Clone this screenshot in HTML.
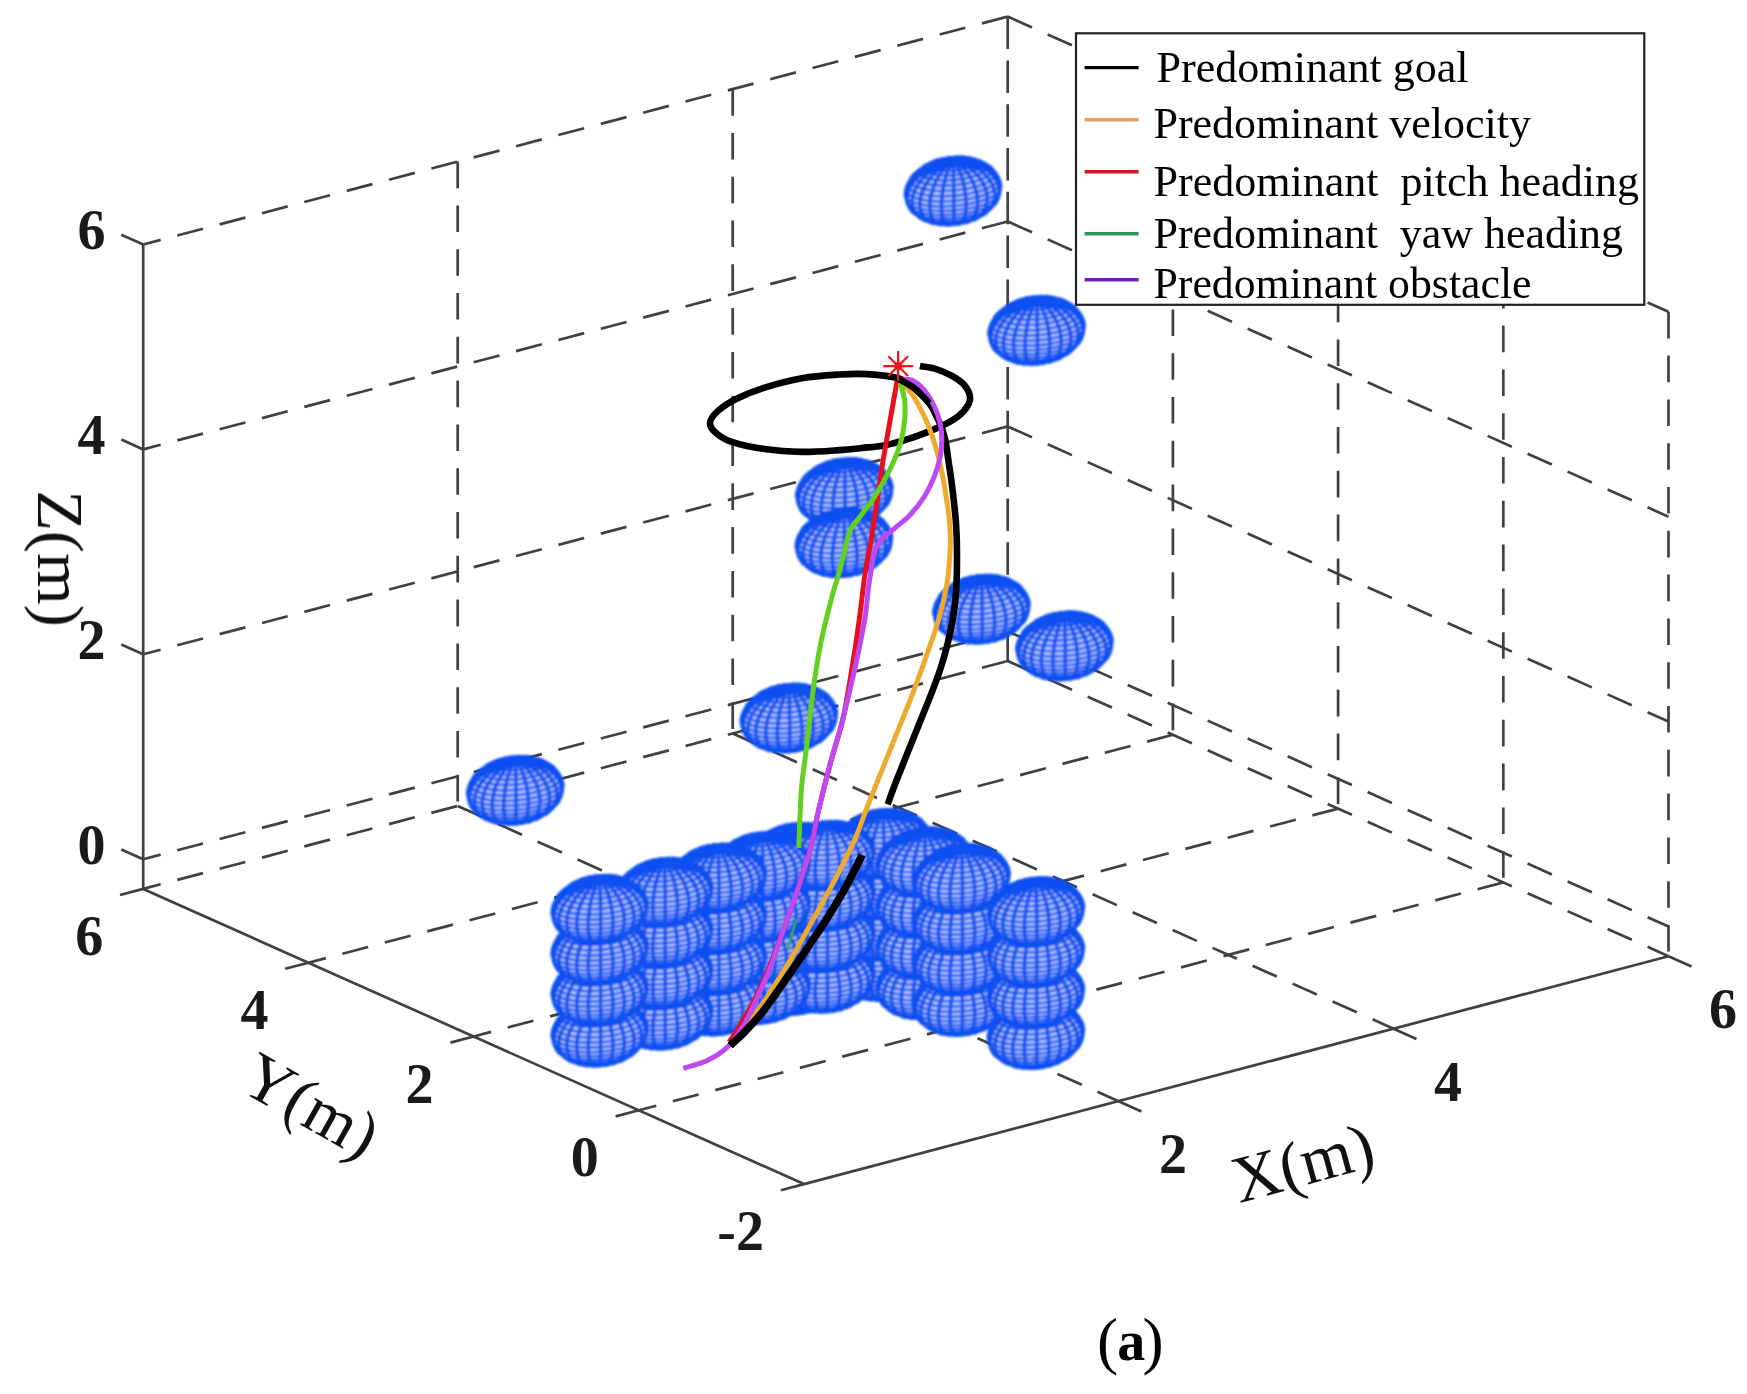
<!DOCTYPE html>
<html lang="en">
<head>
<meta charset="utf-8">
<title>Figure (a)</title>
<style>
html,body{margin:0;padding:0;background:#fff;}
body{width:1747px;height:1394px;overflow:hidden;}
svg{display:block;}
</style>
</head>
<body>
<svg width="1747" height="1394" viewBox="0 0 1747 1394" font-family="'Liberation Serif', serif">
<g fill="none" stroke="#404040" stroke-width="2.7">
<path d="M1007.7 631.3 L143.2 859.2" stroke-dasharray="26.6 17.2"/>
<path d="M1007.7 426.4 L143.2 654.3" stroke-dasharray="26.6 17.2"/>
<path d="M1007.7 221.5 L143.2 449.4" stroke-dasharray="26.6 17.2"/>
<path d="M1007.7 16.6 L143.2 244.5" stroke-dasharray="26.6 17.2"/>
<path d="M457.7 161.6 L457.7 806" stroke-dasharray="26.6 17.2"/>
<path d="M732.7 89.1 L732.7 733.5" stroke-dasharray="26.6 17.2"/>
<path d="M1007.7 16.6 L1007.7 661" stroke-dasharray="32.5 11.3"/>
<path d="M1007.7 631.3 L1668.5 926.5" stroke-dasharray="26.6 17.2"/>
<path d="M1007.7 426.4 L1668.5 721.6" stroke-dasharray="26.6 17.2"/>
<path d="M1007.7 221.5 L1668.5 516.7" stroke-dasharray="26.6 17.2"/>
<path d="M1007.7 16.6 L1668.5 311.8" stroke-dasharray="26.6 17.2"/>
<path d="M1172.9 90.4 L1172.9 734.8" stroke-dasharray="26.6 17.2"/>
<path d="M1338.1 164.2 L1338.1 808.6" stroke-dasharray="26.6 17.2"/>
<path d="M1503.3 238 L1503.3 882.4" stroke-dasharray="26.6 17.2"/>
<path d="M1668.5 311.8 L1668.5 956.2" stroke-dasharray="26.6 17.2"/>
<path d="M1007.7 661 L143.2 888.9" stroke-dasharray="26.6 17.2"/>
<path d="M1007.7 661 L1668.5 956.2" stroke-dasharray="26.6 17.2"/>
<path d="M457.7 806 L1118.5 1101.2" stroke-dasharray="26.6 17.2"/>
<path d="M732.7 733.5 L1393.5 1028.7" stroke-dasharray="26.6 17.2"/>
<path d="M1172.9 734.8 L308.4 962.7" stroke-dasharray="26.6 17.2"/>
<path d="M1338.1 808.6 L473.6 1036.5" stroke-dasharray="26.6 17.2"/>
<path d="M1503.3 882.4 L638.8 1110.3" stroke-dasharray="26.6 17.2"/>
</g>
<g fill="none" stroke="#404040" stroke-width="2.7" stroke-linecap="butt">
<path d="M143.2 244.5 L143.2 888.9"/>
<path d="M143.2 888.9 L804 1184.1"/>
<path d="M804 1184.1 L1668.5 956.2"/>
<path d="M143.2 859.2 L121.3 849.4"/>
<path d="M143.2 654.3 L121.3 644.5"/>
<path d="M143.2 449.4 L121.3 439.6"/>
<path d="M143.2 244.5 L121.3 234.7"/>
<path d="M143.2 888.9 L120 895"/>
<path d="M308.4 962.7 L285.2 968.8"/>
<path d="M473.6 1036.5 L450.4 1042.6"/>
<path d="M638.8 1110.3 L615.6 1116.4"/>
<path d="M804 1184.1 L780.8 1190.2"/>
<path d="M1118.5 1101.2 L1141.5 1111.5"/>
<path d="M1393.5 1028.7 L1416.5 1039"/>
<path d="M1668.5 956.2 L1691.5 966.5"/>
</g>
<defs><filter id="bl" x="-5%" y="-5%" width="110%" height="110%"><feGaussianBlur stdDeviation="0.8"/></filter><g id="s"><ellipse rx="47.91" ry="33.71" transform="rotate(171.43)" fill="#aec4ff" stroke="#0b50f0" stroke-width="2.5"/><path d="M28.9 -29.1 L27.3 -29.8 L25.7 -30.4 L24 -30.9 L22.2 -31.4 L20.4 -31.7 L18.5 -32 L16.6 -32.2 L14.6 -32.3 L12.6 -32.3 L10.6 -32.2 L8.5 -32 L6.4 -31.7 L4.3 -31.4 L2.1 -30.9 L0 -30.4 M18 -32.7 L16.5 -33 L15 -33.1 L13.5 -33.2 L11.9 -33.1 L10.2 -33 L8.6 -32.8 L6.9 -32.5 L5.2 -32.1 L3.5 -31.6 L1.7 -31.1 L0 -30.4 M11.6 -33.8 L10.5 -33.8 L9.4 -33.8 L8.3 -33.7 L7.1 -33.5 L6 -33.2 L4.8 -32.8 L3.6 -32.4 L2.4 -31.8 L1.2 -31.2 L0 -30.4 M5.2 -34.1 L4.7 -34 L4.1 -33.9 L3.6 -33.7 L3 -33.4 L2.4 -33 L1.8 -32.5 L1.2 -31.9 L0.6 -31.2 L0 -30.4 M-0.4 -33.9 L-0.3 -33.8 L-0.3 -33.7 L-0.3 -33.5 L-0.2 -33.2 L-0.2 -32.9 L-0.1 -32.4 L-0.1 -31.8 L-0 -31.2 L-0 -30.4 M-6 -33.2 L-5.3 -33.2 L-4.7 -33.2 L-4.1 -33.1 L-3.4 -32.9 L-2.7 -32.5 L-2.1 -32.1 L-1.4 -31.7 L-0.7 -31.1 L-0 -30.4 M-12.3 -31.8 L-11.1 -32.1 L-10 -32.3 L-8.8 -32.3 L-7.6 -32.3 L-6.3 -32.2 L-5.1 -32 L-3.8 -31.8 L-2.6 -31.4 L-1.3 -31 L-0 -30.4 M-20.1 -29.2 L-18.7 -29.8 L-17.1 -30.3 L-15.6 -30.7 L-13.9 -31 L-12.3 -31.2 L-10.6 -31.3 L-8.9 -31.4 L-7.1 -31.4 L-5.4 -31.3 L-3.6 -31.1 L-1.8 -30.8 L-0 -30.4 M-29.5 -24.4 L-27.9 -25.4 L-26.2 -26.2 L-24.5 -27 L-22.7 -27.8 L-20.8 -28.4 L-18.9 -29 L-16.9 -29.5 L-14.9 -29.9 L-12.9 -30.2 L-10.8 -30.5 L-8.7 -30.6 L-6.5 -30.7 L-4.4 -30.7 L-2.2 -30.6 L-0 -30.4 M-42.2 -12.5 L-41.2 -13.9 L-40 -15.3 L-38.8 -16.7 L-37.4 -18 L-35.9 -19.3 L-34.4 -20.5 L-32.7 -21.6 L-30.9 -22.7 L-29.1 -23.7 L-27.2 -24.7 L-25.2 -25.6 L-23.1 -26.4 L-21 -27.2 L-18.8 -27.9 L-16.6 -28.5 L-14.3 -29 L-12 -29.4 L-9.6 -29.8 L-7.2 -30.1 L-4.8 -30.3 L-2.4 -30.4 L-0 -30.4 M-47.6 5.4 L-47.6 3.8 L-47.6 2.2 L-47.4 0.6 L-47 -1 L-46.6 -2.6 L-46 -4.2 L-45.3 -5.7 L-44.5 -7.3 L-43.5 -8.9 L-42.4 -10.4 L-41.3 -11.9 L-39.9 -13.3 L-38.5 -14.8 L-37 -16.2 L-35.4 -17.5 L-33.7 -18.8 L-31.9 -20 L-30 -21.2 L-28 -22.4 L-25.9 -23.4 L-23.8 -24.4 L-21.6 -25.4 L-19.4 -26.2 L-17.1 -27 L-14.7 -27.8 L-12.3 -28.4 L-9.9 -29 L-7.5 -29.5 L-5 -29.9 L-2.5 -30.2 L-0 -30.4 M-39.7 21.8 L-40.8 20.6 L-41.8 19.3 L-42.8 18 L-43.6 16.6 L-44.2 15.2 L-44.8 13.7 L-45.2 12.2 L-45.5 10.7 L-45.7 9.1 L-45.8 7.6 L-45.7 6 L-45.5 4.3 L-45.2 2.7 L-44.8 1.1 L-44.2 -0.6 L-43.6 -2.2 L-42.8 -3.8 L-41.8 -5.5 L-40.8 -7.1 L-39.7 -8.7 L-38.4 -10.2 L-37 -11.8 L-35.6 -13.3 L-34 -14.7 L-32.4 -16.2 L-30.6 -17.6 L-28.8 -18.9 L-26.9 -20.2 L-24.9 -21.4 L-22.9 -22.6 L-20.8 -23.7 L-18.6 -24.7 L-16.4 -25.7 L-14.2 -26.6 L-11.9 -27.4 L-9.5 -28.2 L-7.2 -28.9 L-4.8 -29.5 L-2.4 -30 L-0 -30.4 M-27.3 29.8 L-28.9 29.1 L-30.3 28.4 L-31.7 27.5 L-33 26.6 L-34.2 25.6 L-35.4 24.5 L-36.4 23.4 L-37.3 22.2 L-38.1 21 L-38.8 19.6 L-39.4 18.3 L-39.9 16.9 L-40.3 15.4 L-40.6 13.9 L-40.8 12.3 L-40.8 10.8 L-40.8 9.2 L-40.6 7.5 L-40.3 5.9 L-39.9 4.2 L-39.4 2.5 L-38.8 0.8 L-38.1 -0.9 L-37.3 -2.5 L-36.4 -4.2 L-35.4 -5.9 L-34.2 -7.5 L-33 -9.2 L-31.7 -10.8 L-30.3 -12.4 L-28.9 -13.9 L-27.3 -15.4 L-25.7 -16.9 L-24 -18.3 L-22.2 -19.7 L-20.4 -21 L-18.5 -22.2 L-16.6 -23.4 L-14.6 -24.5 L-12.6 -25.6 L-10.6 -26.6 L-8.5 -27.5 L-6.4 -28.4 L-4.3 -29.1 L-2.1 -29.8 L-0 -30.4 M-18 32.7 L-19.5 32.4 L-20.8 32 L-22.1 31.5 L-23.4 30.9 L-24.6 30.2 L-25.7 29.4 L-26.8 28.6 L-27.8 27.7 L-28.7 26.7 L-29.5 25.6 L-30.2 24.5 L-30.9 23.3 L-31.5 22 L-32 20.7 L-32.4 19.3 L-32.7 17.8 L-32.9 16.3 L-33.1 14.8 L-33.1 13.2 L-33.1 11.6 L-32.9 10 L-32.7 8.3 L-32.4 6.6 L-32 4.9 L-31.5 3.2 L-30.9 1.5 L-30.2 -0.3 L-29.5 -2 L-28.7 -3.8 L-27.8 -5.5 L-26.8 -7.2 L-25.7 -8.9 L-24.6 -10.5 L-23.4 -12.2 L-22.1 -13.8 L-20.8 -15.3 L-19.5 -16.8 L-18 -18.3 L-16.5 -19.7 L-15 -21.1 L-13.5 -22.4 L-11.9 -23.7 L-10.2 -24.8 L-8.6 -26 L-6.9 -27 L-5.2 -28 L-3.5 -28.9 L-1.7 -29.7 L-0 -30.4 M-11.6 33.8 L-12.6 33.6 L-13.6 33.3 L-14.5 33 L-15.5 32.5 L-16.3 32 L-17.2 31.4 L-18 30.7 L-18.7 29.9 L-19.4 29 L-20 28 L-20.6 27 L-21.1 25.9 L-21.6 24.7 L-22 23.5 L-22.3 22.2 L-22.6 20.8 L-22.8 19.4 L-23 17.9 L-23.1 16.4 L-23.1 14.8 L-23.1 13.2 L-23 11.5 L-22.8 9.9 L-22.6 8.2 L-22.3 6.4 L-22 4.7 L-21.6 2.9 L-21.1 1.1 L-20.6 -0.6 L-20 -2.4 L-19.4 -4.2 L-18.7 -5.9 L-18 -7.6 L-17.2 -9.4 L-16.3 -11 L-15.5 -12.7 L-14.5 -14.3 L-13.6 -15.9 L-12.6 -17.5 L-11.6 -18.9 L-10.5 -20.4 L-9.4 -21.8 L-8.3 -23.1 L-7.1 -24.4 L-6 -25.6 L-4.8 -26.7 L-3.6 -27.7 L-2.4 -28.7 L-1.2 -29.6 L-0 -30.4 M-5.2 34.1 L-5.8 34 L-6.3 33.9 L-6.8 33.6 L-7.3 33.3 L-7.7 32.9 L-8.2 32.4 L-8.6 31.8 L-9 31.1 L-9.3 30.3 L-9.7 29.5 L-10 28.5 L-10.3 27.5 L-10.5 26.4 L-10.8 25.2 L-11 24 L-11.1 22.7 L-11.3 21.4 L-11.4 19.9 L-11.5 18.5 L-11.5 16.9 L-11.5 15.4 L-11.5 13.7 L-11.5 12.1 L-11.4 10.4 L-11.3 8.7 L-11.1 7 L-11 5.2 L-10.8 3.4 L-10.5 1.7 L-10.3 -0.1 L-10 -1.9 L-9.7 -3.7 L-9.3 -5.5 L-9 -7.2 L-8.6 -8.9 L-8.2 -10.7 L-7.7 -12.3 L-7.3 -14 L-6.8 -15.6 L-6.3 -17.2 L-5.8 -18.7 L-5.2 -20.1 L-4.7 -21.5 L-4.1 -22.9 L-3.6 -24.2 L-3 -25.4 L-2.4 -26.6 L-1.8 -27.6 L-1.2 -28.7 L-0.6 -29.6 L-0 -30.4 M0.4 33.9 L0.4 33.8 L0.5 33.6 L0.5 33.4 L0.5 33 L0.6 32.6 L0.6 32 L0.6 31.4 L0.6 30.7 L0.7 29.9 L0.7 29 L0.7 28.1 L0.7 27.1 L0.8 26 L0.8 24.8 L0.8 23.5 L0.8 22.2 L0.8 20.9 L0.8 19.5 L0.8 18 L0.8 16.4 L0.8 14.9 L0.8 13.3 L0.8 11.6 L0.8 9.9 L0.8 8.2 L0.8 6.5 L0.8 4.7 L0.8 3 L0.8 1.2 L0.7 -0.6 L0.7 -2.3 L0.7 -4.1 L0.7 -5.9 L0.6 -7.6 L0.6 -9.3 L0.6 -11 L0.6 -12.7 L0.5 -14.3 L0.5 -15.9 L0.5 -17.4 L0.4 -18.9 L0.4 -20.4 L0.3 -21.7 L0.3 -23.1 L0.3 -24.3 L0.2 -25.5 L0.2 -26.7 L0.1 -27.7 L0.1 -28.7 L0 -29.6 L0 -30.4 M6 33.2 L6.6 33 L7.1 32.8 L7.7 32.5 L8.3 32.1 L8.8 31.6 L9.3 31 L9.8 30.3 L10.2 29.5 L10.6 28.7 L11 27.8 L11.4 26.8 L11.7 25.7 L12 24.6 L12.3 23.4 L12.5 22.1 L12.7 20.8 L12.8 19.4 L13 18 L13.1 16.5 L13.1 14.9 L13.1 13.4 L13.1 11.8 L13.1 10.1 L13 8.4 L12.8 6.8 L12.7 5 L12.5 3.3 L12.3 1.6 L12 -0.2 L11.7 -1.9 L11.4 -3.6 L11 -5.4 L10.6 -7.1 L10.2 -8.8 L9.8 -10.4 L9.3 -12.1 L8.8 -13.7 L8.3 -15.2 L7.7 -16.8 L7.1 -18.2 L6.6 -19.7 L6 -21 L5.3 -22.4 L4.7 -23.6 L4.1 -24.8 L3.4 -25.9 L2.7 -27 L2.1 -28 L1.4 -28.9 L0.7 -29.7 L0 -30.4 M12.3 31.8 L13.4 31.5 L14.4 31.1 L15.4 30.5 L16.4 29.9 L17.3 29.3 L18.2 28.5 L19.1 27.7 L19.8 26.8 L20.6 25.8 L21.2 24.7 L21.9 23.6 L22.4 22.4 L22.9 21.1 L23.3 19.8 L23.7 18.5 L24 17 L24.2 15.6 L24.4 14.1 L24.5 12.5 L24.5 11 L24.5 9.4 L24.4 7.7 L24.2 6.1 L24 4.4 L23.7 2.7 L23.3 1 L22.9 -0.7 L22.4 -2.4 L21.9 -4 L21.2 -5.7 L20.6 -7.4 L19.8 -9 L19.1 -10.6 L18.2 -12.2 L17.3 -13.8 L16.4 -15.3 L15.4 -16.7 L14.4 -18.2 L13.4 -19.5 L12.3 -20.9 L11.1 -22.1 L10 -23.3 L8.8 -24.5 L7.6 -25.6 L6.3 -26.6 L5.1 -27.5 L3.8 -28.3 L2.6 -29.1 L1.3 -29.8 L0 -30.4 M20.1 29.2 L21.6 28.6 L22.9 27.8 L24.2 27 L25.5 26.2 L26.6 25.2 L27.7 24.2 L28.7 23.1 L29.7 22 L30.5 20.8 L31.3 19.5 L32 18.2 L32.6 16.8 L33.1 15.4 L33.5 14 L33.8 12.5 L34.1 10.9 L34.2 9.4 L34.3 7.8 L34.2 6.2 L34.1 4.6 L33.8 2.9 L33.5 1.3 L33.1 -0.3 L32.6 -2 L32 -3.6 L31.3 -5.3 L30.5 -6.9 L29.7 -8.5 L28.7 -10 L27.7 -11.6 L26.6 -13.1 L25.5 -14.6 L24.2 -16 L22.9 -17.4 L21.6 -18.7 L20.1 -20 L18.7 -21.3 L17.1 -22.5 L15.6 -23.6 L13.9 -24.6 L12.3 -25.6 L10.6 -26.5 L8.9 -27.4 L7.1 -28.1 L5.4 -28.8 L3.6 -29.4 L1.8 -30 L0 -30.4 M29.5 24.4 L31 23.4 L32.4 22.3 L33.7 21.2 L34.9 20 L36.1 18.8 L37.1 17.5 L38.1 16.1 L38.9 14.7 L39.6 13.3 L40.2 11.8 L40.8 10.3 L41.2 8.8 L41.4 7.3 L41.6 5.7 L41.7 4.1 L41.6 2.5 L41.4 0.9 L41.2 -0.7 L40.8 -2.3 L40.2 -3.9 L39.6 -5.5 L38.9 -7.1 L38.1 -8.6 L37.1 -10.2 L36.1 -11.7 L34.9 -13.1 L33.7 -14.6 L32.4 -16 L31 -17.3 L29.5 -18.6 L27.9 -19.9 L26.2 -21.1 L24.5 -22.2 L22.7 -23.3 L20.8 -24.3 L18.9 -25.2 L16.9 -26.1 L14.9 -26.9 L12.9 -27.7 L10.8 -28.3 L8.7 -28.9 L6.5 -29.4 L4.4 -29.8 L2.2 -30.2 L0 -30.4 M41.2 13.9 L42.2 12.5 L43.2 11 L44 9.5 L44.6 8 L45.2 6.5 L45.7 4.9 L46 3.3 L46.2 1.7 L46.2 0.1 L46.2 -1.5 L46 -3 L45.7 -4.6 L45.2 -6.2 L44.6 -7.7 L44 -9.3 L43.2 -10.8 L42.2 -12.3 L41.2 -13.7 L40 -15.1 L38.8 -16.5 L37.4 -17.8 L35.9 -19 L34.4 -20.3 L32.7 -21.4 L30.9 -22.5 L29.1 -23.6 L27.2 -24.5 L25.2 -25.4 L23.1 -26.3 L21 -27 L18.8 -27.7 L16.6 -28.4 L14.3 -28.9 L12 -29.4 L9.6 -29.7 L7.2 -30 L4.8 -30.2 L2.4 -30.4 L0 -30.4 M47.6 -3.8 L47.6 -5.4 L47.4 -7 L47 -8.6 L46.6 -10.1 L46 -11.6 L45.3 -13.1 L44.5 -14.5 L43.5 -15.9 L42.4 -17.2 L41.3 -18.5 L39.9 -19.8 L38.5 -21 L37 -22.1 L35.4 -23.2 L33.7 -24.2 L31.9 -25.2 L30 -26.1 L28 -26.9 L25.9 -27.6 L23.8 -28.3 L21.6 -28.9 L19.4 -29.4 L17.1 -29.8 L14.7 -30.1 L12.3 -30.4 L9.9 -30.6 L7.5 -30.7 L5 -30.7 L2.5 -30.6 L0 -30.4 M39.7 -21.8 L38.4 -22.9 L37 -24 L35.6 -25 L34 -26 L32.4 -26.9 L30.6 -27.7 L28.8 -28.4 L26.9 -29.1 L24.9 -29.6 L22.9 -30.1 L20.8 -30.5 L18.6 -30.9 L16.4 -31.1 L14.2 -31.3 L11.9 -31.3 L9.5 -31.3 L7.2 -31.2 L4.8 -31.1 L2.4 -30.8 L0 -30.4" fill="none" stroke="#0b50f0" stroke-width="3.5" stroke-linejoin="round"/><path d="M-7.4 34 L-5.6 34.1 L-3.8 34.1 L-1.9 34 L-0 33.9 L1.9 33.7 L3.8 33.5 L5.6 33.2 L7.4 32.9 M-21.5 31.9 L-19.8 32.3 L-18 32.7 L-16.1 33 L-14 33.3 L-11.8 33.5 L-9.6 33.6 L-7.2 33.6 L-4.9 33.6 L-2.4 33.5 L-0 33.4 L2.4 33.2 L4.9 32.9 L7.2 32.6 L9.6 32.1 L11.8 31.7 L14 31.2 L16.1 30.6 L18 30 L19.8 29.3 L21.5 28.6 M-29.2 29 L-27.6 29.7 L-25.8 30.2 L-23.8 30.8 L-21.7 31.2 L-19.3 31.6 L-16.8 31.9 L-14.2 32.2 L-11.5 32.3 L-8.7 32.4 L-5.8 32.4 L-2.9 32.3 L0 32.1 L2.9 31.8 L5.8 31.5 L8.7 31.1 L11.5 30.6 L14.2 30 L16.8 29.4 L19.3 28.7 L21.7 28 L23.8 27.2 L25.8 26.4 L27.6 25.5 L29.2 24.6 M-36.2 24.7 L-34.9 25.6 L-33.4 26.4 L-31.6 27.2 L-29.5 27.9 L-27.3 28.5 L-24.8 29 L-22.1 29.4 L-19.3 29.8 L-16.3 30.1 L-13.2 30.2 L-10 30.3 L-6.7 30.3 L-3.4 30.2 L0 30 L3.4 29.7 L6.7 29.3 L10 28.8 L13.2 28.2 L16.3 27.6 L19.3 26.9 L22.1 26.1 L24.8 25.3 L27.3 24.4 L29.5 23.4 L31.6 22.4 L33.4 21.4 L34.9 20.4 L36.2 19.3 M-41 20.3 L-39.9 21.4 L-38.5 22.3 L-36.8 23.2 L-34.8 24.1 L-32.5 24.8 L-30 25.5 L-27.3 26.1 L-24.3 26.5 L-21.2 26.9 L-17.9 27.2 L-14.5 27.4 L-11 27.5 L-7.4 27.5 L-3.7 27.4 L-0 27.1 L3.7 26.8 L7.4 26.4 L11 25.8 L14.5 25.2 L17.9 24.5 L21.2 23.7 L24.3 22.9 L27.3 22 L30 21 L32.5 19.9 L34.8 18.8 L36.8 17.7 L38.5 16.5 L39.9 15.4 L41 14.2 M-44.6 15.2 L-43.8 16.4 L-42.6 17.5 L-41.1 18.5 L-39.2 19.5 L-37.1 20.3 L-34.7 21.1 L-32 21.9 L-29.1 22.5 L-26 23 L-22.7 23.4 L-19.1 23.7 L-15.5 23.9 L-11.7 24 L-7.9 24 L-3.9 23.9 L0 23.6 L3.9 23.3 L7.9 22.8 L11.7 22.2 L15.5 21.6 L19.1 20.8 L22.7 20 L26 19.1 L29.1 18.1 L32 17 L34.7 15.9 L37.1 14.8 L39.2 13.6 L41.1 12.3 L42.6 11.1 L43.8 9.8 L44.6 8.5 M-46.9 9.6 L-46.3 10.8 L-45.4 12 L-44.2 13.1 L-42.6 14.2 L-40.7 15.2 L-38.5 16.1 L-36 17 L-33.3 17.7 L-30.2 18.3 L-27 18.9 L-23.5 19.3 L-19.9 19.6 L-16.1 19.8 L-12.2 19.9 L-8.2 19.9 L-4.1 19.8 L0 19.5 L4.1 19.1 L8.2 18.7 L12.2 18.1 L16.1 17.4 L19.9 16.6 L23.5 15.8 L27 14.8 L30.2 13.8 L33.3 12.7 L36 11.5 L38.5 10.3 L40.7 9.1 L42.6 7.8 L44.2 6.5 L45.4 5.2 L46.3 3.8 L46.9 2.5 M-47.6 3.6 L-47.5 4.9 L-46.9 6.1 L-46 7.3 L-44.8 8.5 L-43.2 9.6 L-41.3 10.6 L-39 11.5 L-36.5 12.3 L-33.7 13.1 L-30.6 13.7 L-27.3 14.3 L-23.8 14.7 L-20.1 15.1 L-16.3 15.3 L-12.3 15.4 L-8.3 15.3 L-4.2 15.2 L-0 14.9 L4.2 14.6 L8.3 14.1 L12.3 13.5 L16.3 12.8 L20.1 12 L23.8 11.1 L27.3 10.2 L30.6 9.1 L33.7 8 L36.5 6.9 L39 5.6 L41.3 4.4 L43.2 3.1 L44.8 1.7 L46 0.4 L46.9 -0.9 L47.5 -2.3 L47.6 -3.6 M-46.9 -2.5 L-47.1 -1.2 L-46.9 0.1 L-46.3 1.3 L-45.4 2.5 L-44.2 3.6 L-42.6 4.7 L-40.7 5.7 L-38.5 6.6 L-36 7.4 L-33.3 8.2 L-30.2 8.8 L-27 9.4 L-23.5 9.8 L-19.9 10.1 L-16.1 10.3 L-12.2 10.4 L-8.2 10.4 L-4.1 10.2 L0 10 L4.1 9.6 L8.2 9.2 L12.2 8.6 L16.1 7.9 L19.9 7.1 L23.5 6.2 L27 5.3 L30.2 4.3 L33.3 3.2 L36 2 L38.5 0.8 L40.7 -0.4 L42.6 -1.7 L44.2 -3 L45.4 -4.4 L46.3 -5.7 L46.9 -7 L47.1 -8.3 L46.9 -9.6 M-44.6 -8.5 L-45.1 -7.2 L-45.3 -6 L-45.1 -4.8 L-44.6 -3.6 L-43.8 -2.4 L-42.6 -1.3 L-41.1 -0.3 L-39.2 0.7 L-37.1 1.5 L-34.7 2.3 L-32 3.1 L-29.1 3.7 L-26 4.2 L-22.7 4.6 L-19.1 4.9 L-15.5 5.1 L-11.7 5.2 L-7.9 5.2 L-3.9 5 L0 4.8 L3.9 4.5 L7.9 4 L11.7 3.4 L15.5 2.8 L19.1 2 L22.7 1.2 L26 0.3 L29.1 -0.7 L32 -1.8 L34.7 -2.9 L37.1 -4 L39.2 -5.3 L41.1 -6.5 L42.6 -7.7 L43.8 -9 L44.6 -10.3 L45.1 -11.6 L45.3 -12.8 L45.1 -14 L44.6 -15.2 M-41 -14.2 L-41.8 -13 L-42.3 -11.8 L-42.4 -10.6 L-42.3 -9.5 L-41.8 -8.4 L-41 -7.3 L-39.9 -6.3 L-38.5 -5.3 L-36.8 -4.4 L-34.8 -3.6 L-32.5 -2.8 L-30 -2.1 L-27.3 -1.6 L-24.3 -1.1 L-21.2 -0.7 L-17.9 -0.4 L-14.5 -0.2 L-11 -0.1 L-7.4 -0.2 L-3.7 -0.3 L-0 -0.5 L3.7 -0.8 L7.4 -1.3 L11 -1.8 L14.5 -2.4 L17.9 -3.1 L21.2 -3.9 L24.3 -4.7 L27.3 -5.7 L30 -6.7 L32.5 -7.7 L34.8 -8.8 L36.8 -9.9 L38.5 -11.1 L39.9 -12.3 L41 -13.5 L41.8 -14.6 L42.3 -15.8 L42.4 -17 L42.3 -18.2 L41.8 -19.3 L41 -20.3 M-36.2 -19.3 L-37.2 -18.2 L-38 -17.1 L-38.4 -16 L-38.5 -15 L-38.4 -13.9 L-38 -12.9 L-37.2 -12 L-36.2 -11 L-34.9 -10.1 L-33.4 -9.3 L-31.6 -8.6 L-29.5 -7.9 L-27.3 -7.3 L-24.8 -6.8 L-22.1 -6.3 L-19.3 -6 L-16.3 -5.7 L-13.2 -5.5 L-10 -5.5 L-6.7 -5.5 L-3.4 -5.6 L0 -5.8 L3.4 -6.1 L6.7 -6.5 L10 -7 L13.2 -7.5 L16.3 -8.2 L19.3 -8.9 L22.1 -9.6 L24.8 -10.5 L27.3 -11.4 L29.5 -12.3 L31.6 -13.3 L33.4 -14.4 L34.9 -15.4 L36.2 -16.5 L37.2 -17.6 L38 -18.6 L38.4 -19.7 L38.5 -20.8 L38.4 -21.8 L38 -22.8 L37.2 -23.8 L36.2 -24.7 M-29.2 -24.6 L-30.5 -23.7 L-31.7 -22.7 L-32.5 -21.8 L-33.2 -20.9 L-33.6 -19.9 L-33.7 -19 L-33.6 -18.1 L-33.2 -17.2 L-32.5 -16.3 L-31.7 -15.5 L-30.5 -14.8 L-29.2 -14 L-27.6 -13.4 L-25.8 -12.8 L-23.8 -12.3 L-21.7 -11.8 L-19.3 -11.4 L-16.8 -11.1 L-14.2 -10.9 L-11.5 -10.7 L-8.7 -10.7 L-5.8 -10.7 L-2.9 -10.8 L0 -11 L2.9 -11.2 L5.8 -11.6 L8.7 -12 L11.5 -12.5 L14.2 -13 L16.8 -13.6 L19.3 -14.3 L21.7 -15.1 L23.8 -15.8 L25.8 -16.7 L27.6 -17.5 L29.2 -18.4 L30.5 -19.3 L31.7 -20.3 L32.5 -21.2 L33.2 -22.2 L33.6 -23.1 L33.7 -24.1 L33.6 -25 L33.2 -25.8 L32.5 -26.7 L31.7 -27.5 L30.5 -28.3 L29.2 -29 M-19.8 -29.3 L-21.5 -28.6 L-22.9 -27.9 L-24.3 -27.2 L-25.4 -26.4 L-26.3 -25.6 L-27 -24.9 L-27.6 -24.1 L-27.9 -23.3 L-28 -22.5 L-27.9 -21.8 L-27.6 -21 L-27 -20.3 L-26.3 -19.6 L-25.4 -19 L-24.3 -18.4 L-22.9 -17.9 L-21.5 -17.4 L-19.8 -16.9 L-18 -16.5 L-16.1 -16.2 L-14 -16 L-11.8 -15.8 L-9.6 -15.6 L-7.2 -15.6 L-4.9 -15.6 L-2.4 -15.7 L-0 -15.8 L2.4 -16.1 L4.9 -16.3 L7.2 -16.7 L9.6 -17.1 L11.8 -17.5 L14 -18.1 L16.1 -18.6 L18 -19.2 L19.8 -19.9 L21.5 -20.6 L22.9 -21.3 L24.3 -22.1 L25.4 -22.8 L26.3 -23.6 L27 -24.4 L27.6 -25.2 L27.9 -26 L28 -26.7 L27.9 -27.5 L27.6 -28.2 L27 -28.9 L26.3 -29.6 L25.4 -30.2 L24.3 -30.8 L22.9 -31.4 L21.5 -31.9 L19.8 -32.3 M-0 -33.9 L-1.9 -33.7 L-3.8 -33.5 L-5.6 -33.2 L-7.4 -32.9 L-9.1 -32.6 L-10.8 -32.2 L-12.4 -31.7 L-13.9 -31.3 L-15.3 -30.8 L-16.6 -30.2 L-17.7 -29.7 L-18.7 -29.1 L-19.6 -28.5 L-20.3 -27.9 L-20.9 -27.3 L-21.3 -26.7 L-21.5 -26.1 L-21.6 -25.5 L-21.5 -24.9 L-21.3 -24.3 L-20.9 -23.8 L-20.3 -23.3 L-19.6 -22.8 L-18.7 -22.3 L-17.7 -21.9 L-16.6 -21.5 L-15.3 -21.2 L-13.9 -20.9 L-12.4 -20.6 L-10.8 -20.4 L-9.1 -20.3 L-7.4 -20.2 L-5.6 -20.1 L-3.8 -20.1 L-1.9 -20.2 L-0 -20.3 L1.9 -20.5 L3.8 -20.7 L5.6 -21 L7.4 -21.3 L9.1 -21.7 L10.8 -22.1 L12.4 -22.5 L13.9 -23 L15.3 -23.5 L16.6 -24 L17.7 -24.6 L18.7 -25.1 L19.6 -25.7 L20.3 -26.3 L20.9 -26.9 L21.3 -27.5 L21.5 -28.1 L21.6 -28.7 L21.5 -29.3 L21.3 -29.9 L20.9 -30.4 L20.3 -31 L19.6 -31.5 L18.7 -31.9 L17.7 -32.3 L16.6 -32.7 L15.3 -33.1 L13.9 -33.4 L12.4 -33.6 L10.8 -33.8 L9.1 -33.9 L7.4 -34 L5.6 -34.1 L3.8 -34.1 L1.9 -34 L0 -33.9 M-0 -33.6 L-1.3 -33.4 L-2.6 -33.3 L-3.8 -33.1 L-5 -32.9 L-6.2 -32.7 L-7.4 -32.4 L-8.4 -32.1 L-9.5 -31.8 L-10.4 -31.4 L-11.3 -31.1 L-12.1 -30.7 L-12.7 -30.3 L-13.3 -29.9 L-13.8 -29.5 L-14.2 -29.1 L-14.5 -28.6 L-14.7 -28.2 L-14.7 -27.8 L-14.7 -27.4 L-14.5 -27 L-14.2 -26.7 L-13.8 -26.3 L-13.3 -26 L-12.7 -25.7 L-12.1 -25.4 L-11.3 -25.1 L-10.4 -24.9 L-9.5 -24.7 L-8.4 -24.5 L-7.4 -24.4 L-6.2 -24.3 L-5 -24.2 L-3.8 -24.2 L-2.6 -24.2 L-1.3 -24.2 L-0 -24.3 L1.3 -24.4 L2.6 -24.6 L3.8 -24.8 L5 -25 L6.2 -25.2 L7.4 -25.5 L8.4 -25.8 L9.5 -26.1 L10.4 -26.5 L11.3 -26.8 L12.1 -27.2 L12.7 -27.6 L13.3 -28 L13.8 -28.4 L14.2 -28.8 L14.5 -29.2 L14.7 -29.6 L14.7 -30 L14.7 -30.4 L14.5 -30.8 L14.2 -31.2 L13.8 -31.6 L13.3 -31.9 L12.7 -32.2 L12.1 -32.5 L11.3 -32.8 L10.4 -33 L9.5 -33.2 L8.4 -33.4 L7.4 -33.5 L6.2 -33.6 L5 -33.7 L3.8 -33.7 L2.6 -33.7 L1.3 -33.6 L0 -33.6 M-0 -32.4 L-0.6 -32.3 L-1.3 -32.3 L-1.9 -32.2 L-2.5 -32.1 L-3.1 -31.9 L-3.7 -31.8 L-4.3 -31.6 L-4.8 -31.5 L-5.3 -31.3 L-5.7 -31.1 L-6.1 -30.9 L-6.5 -30.7 L-6.8 -30.5 L-7 -30.3 L-7.2 -30.1 L-7.3 -29.9 L-7.4 -29.7 L-7.5 -29.5 L-7.4 -29.3 L-7.3 -29.1 L-7.2 -28.9 L-7 -28.7 L-6.8 -28.6 L-6.5 -28.4 L-6.1 -28.3 L-5.7 -28.1 L-5.3 -28 L-4.8 -27.9 L-4.3 -27.8 L-3.7 -27.7 L-3.1 -27.7 L-2.5 -27.7 L-1.9 -27.7 L-1.3 -27.7 L-0.6 -27.7 L-0 -27.7 L0.6 -27.8 L1.3 -27.8 L1.9 -27.9 L2.5 -28 L3.1 -28.2 L3.7 -28.3 L4.3 -28.5 L4.8 -28.6 L5.3 -28.8 L5.7 -29 L6.1 -29.2 L6.5 -29.4 L6.8 -29.6 L7 -29.8 L7.2 -30 L7.3 -30.2 L7.4 -30.4 L7.5 -30.6 L7.4 -30.8 L7.3 -31 L7.2 -31.2 L7 -31.4 L6.8 -31.5 L6.5 -31.7 L6.1 -31.9 L5.7 -32 L5.3 -32.1 L4.8 -32.2 L4.3 -32.3 L3.7 -32.4 L3.1 -32.4 L2.5 -32.4 L1.9 -32.5 L1.3 -32.5 L0.6 -32.4 L0 -32.4" fill="none" stroke="#0b50f0" stroke-width="2.3" stroke-linejoin="round"/><path d="M9.2 -32.1 L8.1 -32.5 L6.7 -32.8 L5.2 -33 L3.5 -33.1 L1.7 -33.1 L-0.2 -33 L-2 -32.8 L-3.8 -32.5 L-5.5 -32.1 L-7 -31.7 L-8.3 -31.1 L-9.4 -30.6 L-10.1 -30 L-10.6 -29.4 L-10.7 -28.8 L-10.5 -28.2 L-10 -27.7 L-9.2 -27.2 L-8.1 -26.8 L-6.7 -26.5 L-5.2 -26.3 L-3.5 -26.2 L-1.7 -26.2 L0.2 -26.3 L2 -26.5 L3.8 -26.8 L5.5 -27.2 L7 -27.6 L8.3 -28.2 L9.4 -28.7 L10.1 -29.3 L10.6 -29.9 L10.7 -30.5 L10.5 -31.1 L10 -31.6 L9.2 -32.1Z" fill="#0b50f0"/></g></defs>
<g filter="url(#bl)">
<use href="#s" x="953" y="191"/>
<use href="#s" x="1036.6" y="330.4"/>
<use href="#s" x="844.4" y="492.6"/>
<use href="#s" x="843.9" y="542.8"/>
<use href="#s" x="981.5" y="609.2"/>
<use href="#s" x="1064.5" y="646"/>
<use href="#s" x="788.9" y="718.1"/>
<use href="#s" x="515.3" y="790.4"/>
</g>
<g filter="url(#bl)">
<use href="#s" x="883.1" y="966.3"/>
<use href="#s" x="796.4" y="980.4"/>
<use href="#s" x="826.7" y="978.3"/>
<use href="#s" x="883.1" y="925.4"/>
<use href="#s" x="762.1" y="989.4"/>
<use href="#s" x="796.4" y="939.4"/>
<use href="#s" x="826.7" y="937.3"/>
<use href="#s" x="883.1" y="884.4"/>
<use href="#s" x="924.4" y="984.8"/>
<use href="#s" x="718.1" y="1001"/>
<use href="#s" x="762.1" y="948.5"/>
<use href="#s" x="796.4" y="898.4"/>
<use href="#s" x="826.7" y="896.3"/>
<use href="#s" x="883.1" y="843.4"/>
<use href="#s" x="924.4" y="943.8"/>
<use href="#s" x="718.1" y="960.1"/>
<use href="#s" x="664.4" y="1015.2"/>
<use href="#s" x="762.1" y="907.5"/>
<use href="#s" x="796.4" y="857.4"/>
<use href="#s" x="826.7" y="855.3"/>
<use href="#s" x="961.6" y="1001.4"/>
<use href="#s" x="924.4" y="902.8"/>
<use href="#s" x="718.1" y="919.1"/>
<use href="#s" x="664.4" y="974.2"/>
<use href="#s" x="762.1" y="866.5"/>
<use href="#s" x="599.8" y="1032.2"/>
<use href="#s" x="961.6" y="960.4"/>
<use href="#s" x="924.4" y="861.8"/>
<use href="#s" x="718.1" y="878.1"/>
<use href="#s" x="664.4" y="933.2"/>
<use href="#s" x="599.8" y="991.2"/>
<use href="#s" x="961.6" y="919.4"/>
<use href="#s" x="664.4" y="892.2"/>
<use href="#s" x="599.8" y="950.3"/>
<use href="#s" x="961.6" y="878.5"/>
<use href="#s" x="599.8" y="909.3"/>
<use href="#s" x="1035.9" y="1034.6"/>
<use href="#s" x="1035.9" y="993.6"/>
<use href="#s" x="1035.9" y="952.6"/>
<use href="#s" x="1035.9" y="911.7"/>
</g>
<g fill="none" stroke-linecap="butt" stroke-linejoin="round">
<path d="M887.7 804.4 C889 801 890.9 795 895.2 783.8 C899.6 772.6 907.6 752.7 913.8 737.2 C920 721.7 928 702.3 932.5 690.6 C937 678.9 938.5 674.8 941 667 C943.5 659.2 945.7 651.7 947.6 643.9 C949.5 636.1 951.3 627.1 952.6 620 C953.9 612.9 954.5 607.6 955.2 601.1 C955.9 594.6 956.3 587.7 956.6 581 C956.9 574.3 957 567.6 957 560.9 C957 554.2 957 547.5 956.8 540.8 C956.6 534.1 956.3 527.5 955.8 520.8 C955.3 514.1 954.5 507.4 953.8 500.7 C953.1 494 952.3 487.3 951.4 480.6 C950.5 473.9 949.4 467.2 948.4 460.5 C947.4 453.8 946.8 446.4 945.4 440.4 C944 434.4 943 430.6 940.3 424.4 C937.6 418.2 933.6 409.3 929.3 403.3 C924.9 397.3 919.4 392.4 914.2 388.2 C909 384 906 380.5 898.2 378.2 C890.4 375.9 877 374.7 867.2 374.1 C857.4 373.5 850.1 373.8 839.2 374.5 C828.3 375.2 814.3 376 801.9 378.2 C789.5 380.4 775.5 384.2 764.6 387.6 C753.7 391 744.4 394.9 736.6 398.8 C728.8 402.7 722.4 407 718 410.9 C713.6 414.8 710.7 418.7 710.1 422.1 C709.5 425.5 710.7 428.1 714.2 431.4 C717.7 434.7 722.6 438.8 731 441.7 C739.4 444.6 752.8 447.4 764.6 449.1 C776.4 450.8 789.5 451.7 801.9 451.9 C814.3 452.1 829.2 450.8 839.2 450.1 C849.2 449.5 854.5 448.8 862 448 C869.5 447.2 876.1 447 884.1 445.4 C892.1 443.8 901.5 441.2 910.2 438.4 C918.9 435.6 929.3 431.4 936.3 428.4 C943.3 425.4 947.7 423.3 952.4 420.3 C957.1 417.3 961.4 414 964.4 410.3 C967.4 406.6 970.1 402.4 970.1 398.2 C970.1 394 967.4 388.9 964.4 385.2 C961.4 381.5 957.1 378.9 952.4 376.2 C947.7 373.5 941.7 370.8 936.3 369.1 C930.9 367.4 922.6 366.6 919.9 366.1" stroke="#000" stroke-width="6.6"/>
<path d="M900.2 382.2 C902.2 384.2 908.2 388.5 912.2 394.2 C916.2 399.9 920.9 409.3 924.3 416.3 C927.6 423.3 929.8 429 932.3 436.4 C934.8 443.8 937.4 453.1 939.3 460.5 C941.1 467.9 942.1 473.9 943.4 480.6 C944.6 487.3 945.8 494 946.8 500.7 C947.8 507.4 948.8 514.1 949.4 520.8 C950 527.5 950.4 534.1 950.4 540.8 C950.4 547.5 949.9 554.2 949.4 560.9 C948.9 567.6 948.4 574.5 947.4 581 C946.4 587.5 945.1 593.5 943.6 600 C942.1 606.5 940.7 612.7 938.5 620 C936.3 627.3 934.7 632.1 930.6 643.9 C926.5 655.7 919.7 675 913.8 690.6 C907.9 706.2 901.4 721.7 895.2 737.2 C889 752.7 881 772.5 876.5 783.8 C872 795.1 871.8 795.4 868 805 C864.2 814.6 859.7 828.6 853.9 841.6 C848.1 854.6 840.4 869.3 833.1 883.2 C825.8 897.1 817.1 912.3 810.2 924.8 C803.3 937.3 797.4 948 791.5 958.1 C785.6 968.2 780.5 976.2 774.8 985.2 C769 994.2 762.6 1004 757 1012 C751.4 1020 743.7 1029.5 741 1033" stroke="#eeaa2e" stroke-width="5"/>
<path d="M897.2 380.2 C896 386.9 892.5 406.9 890.1 420.3 C887.8 433.7 885.3 447.1 883.1 460.5 C880.9 473.9 879.1 487.3 877.1 500.7 C875.1 514.1 872.7 530.6 871 540.8 C869.3 551 868.2 555.3 867 562 C865.8 568.7 865.2 571.7 864 581 C862.8 590.3 861.4 604 859.5 618 C857.6 632 855.2 648.2 852.5 665 C849.8 681.8 846.8 701.9 843 718.6 C839.2 735.3 834.1 749.1 829.9 765.2 C825.6 781.3 820.4 802.3 817.5 815 C814.6 827.7 815.2 830.2 812.3 841.6 C809.3 853 804.3 869.3 799.8 883.2 C795.3 897.1 790.3 910.9 785.3 924.8 C780.2 938.7 774.6 954 769.5 966.5 C764.4 979 759.7 989.8 754.5 1000 C749.3 1010.2 742.8 1021 738.5 1028 C734.2 1035 730.6 1039.7 729 1042" stroke="#e8101e" stroke-width="5"/>
<path d="M900.2 383.2 C900.9 386.1 903.9 394.1 904.6 400.3 C905.3 406.5 905.2 413.6 904.6 420.3 C904 427 903 433.7 901.2 440.4 C899.5 447.1 897 453.8 894.1 460.5 C891.2 467.2 887.8 473.9 884.1 480.6 C880.4 487.3 876 494.7 872 500.7 C868 506.7 863.8 511.5 860 516.7 C856.2 521.9 852.2 525.6 849.5 532.1 C846.8 538.6 845.5 548.4 843.5 556 C841.5 563.6 839.5 571.1 837.5 578 C835.5 584.9 834.6 586.3 831.8 597.3 C829 608.3 823.7 628.3 820.6 643.9 C817.5 659.5 815.4 673.5 813.1 690.6 C810.8 707.7 808.5 731 806.6 746.5 C804.7 762 803 773.2 801.9 783.8 C800.8 794.4 800.8 799.3 800.3 810 C799.8 820.7 799 841.6 798.8 847.9" stroke="#62d020" stroke-width="5"/>
<path d="M796.7 918.6 C795.1 923.8 788.9 944.6 787.3 949.8" stroke="#3fa84a" stroke-width="3" opacity="0.8"/>
<path d="M899.2 379.2 C901.4 379.4 908 378.4 912.2 380.2 C916.4 382 920.6 385.8 924.3 390.2 C928 394.6 931.6 400.6 934.3 406.3 C937 412 939 418.7 940.3 424.4 C941.6 430.1 941.9 435 941.9 440.4 C941.9 445.8 941.6 450.5 940.3 456.5 C939 462.5 937 469.9 934.3 476.6 C931.6 483.3 928.3 490.3 924.3 496.7 C920.3 503.1 915.2 509.4 910.2 514.7 C905.2 520.1 899.1 524.4 894.1 528.8 C889.1 533.1 883.4 536.8 880.1 540.8 C876.8 544.8 875.6 547.9 874.1 552.9 C872.6 557.9 872 564.6 871 571 C870 577.4 869 583.3 868 591.1 C867 598.9 867.3 604.5 865 618 C862.7 631.5 857.8 655.1 854.1 671.9 C850.4 688.7 847 703 843 718.6 C839 734.2 834.1 749.1 829.9 765.2 C825.6 781.3 820.4 802.3 817.5 815 C814.6 827.7 815.2 830.2 812.3 841.6 C809.3 853 804.3 869.3 799.8 883.2 C795.3 897.1 790.1 910.9 785.3 924.8 C780.4 938.7 775.2 954.6 770.7 966.5 C766.2 978.4 762.4 986.4 758 996 C753.6 1005.6 749.3 1015.8 744.5 1024 C739.7 1032.2 735.1 1039.5 729.1 1045.5 C723.1 1051.5 715.9 1056.3 708.3 1060.1 C700.7 1063.9 687.5 1067 683.3 1068.4" stroke="#be48f2" stroke-width="5"/>
<path d="M730.1 1045.5 C732.4 1043.4 738.2 1038.5 743.6 1033 C749 1027.5 755.8 1020.5 762.4 1012.2 C769 1003.9 775.9 993.5 783.2 983.1 C790.5 972.7 798.8 960.5 806.1 949.8 C813.4 939 820.3 929 826.9 918.6 C833.5 908.2 839.7 898 845.6 887.4 C851.5 876.8 859.4 860.5 862.2 855.1" stroke="#000" stroke-width="7.6"/>
<path d="M896.5 377.6 C899.5 379.4 908.7 383.9 914.2 388.2 C919.7 392.5 926.8 400.8 929.3 403.3" stroke="#000" stroke-width="6.6"/>
</g>
<path d="M883.2 366.1 L913.2 366.1 M888.3 356.2 L908.1 376 M898.2 351.1 L898.2 381.1 M908.1 356.2 L888.3 376" fill="none" stroke="#f01418" stroke-width="2.3"/>
<circle cx="898.2" cy="366.1" r="4" fill="#f01418"/>
<rect x="1076" y="33.3" width="568.3" height="271.5" fill="#fff" stroke="#222" stroke-width="2.2"/>
<path d="M1084.6 67.6 H1138.6" stroke="#000" stroke-width="3.4" fill="none"/>
<text x="1156.6" y="81.6" font-size="43.5" textLength="312" lengthAdjust="spacingAndGlyphs">Predominant goal</text>
<path d="M1084.6 119.7 H1138.6" stroke="#e0a060" stroke-width="3.4" fill="none"/>
<text x="1153.5" y="138.4" font-size="43.5" textLength="377.4" lengthAdjust="spacingAndGlyphs">Predominant velocity</text>
<path d="M1084.6 171.7 H1138.6" stroke="#dc141e" stroke-width="3.4" fill="none"/>
<text x="1153.5" y="195.6" font-size="43.5" textLength="485.5" lengthAdjust="spacingAndGlyphs">Predominant  pitch heading</text>
<path d="M1084.6 233.7 H1138.6" stroke="#28965a" stroke-width="3.4" fill="none"/>
<text x="1153.5" y="247.6" font-size="43.5" textLength="469.5" lengthAdjust="spacingAndGlyphs">Predominant  yaw heading</text>
<path d="M1084.6 279.8 H1138.6" stroke="#6e1ebe" stroke-width="3.4" fill="none"/>
<text x="1153.5" y="297.5" font-size="43.5" textLength="378" lengthAdjust="spacingAndGlyphs">Predominant obstacle</text>
<g font-weight="bold" font-size="56" fill="#1a1a1a">
<text x="105.5" y="863.7" text-anchor="end">0</text>
<text x="105.5" y="658.8" text-anchor="end">2</text>
<text x="105.5" y="453.9" text-anchor="end">4</text>
<text x="105.5" y="249" text-anchor="end">6</text>
<text x="103.2" y="954.9" text-anchor="end">6</text>
<text x="268.4" y="1028.7" text-anchor="end">4</text>
<text x="433.6" y="1102.5" text-anchor="end">2</text>
<text x="598.8" y="1176.3" text-anchor="end">0</text>
<text x="764" y="1250.1" text-anchor="end">-2</text>
<text x="1159" y="1173.2">2</text>
<text x="1434" y="1100.7">4</text>
<text x="1709" y="1028.2">6</text>
</g>
<g font-size="66.5" fill="#111" text-anchor="middle">
<text transform="translate(1304.3 1168.4) rotate(-15.2)" y="16.5">X(m)</text>
<text transform="translate(308.4 1110.4) rotate(29.5)" y="16.5">Y(m)</text>
<text transform="translate(55 558.5) rotate(90)" y="16.5">Z(m)</text>
</g>
<text fill="#000"><tspan x="1097" y="1362" font-size="63.5">(</tspan><tspan x="1117.3" y="1359.7" font-size="56" font-weight="bold">a</tspan><tspan x="1142.5" y="1362" font-size="63.5">)</tspan></text>
</svg>
</body>
</html>
